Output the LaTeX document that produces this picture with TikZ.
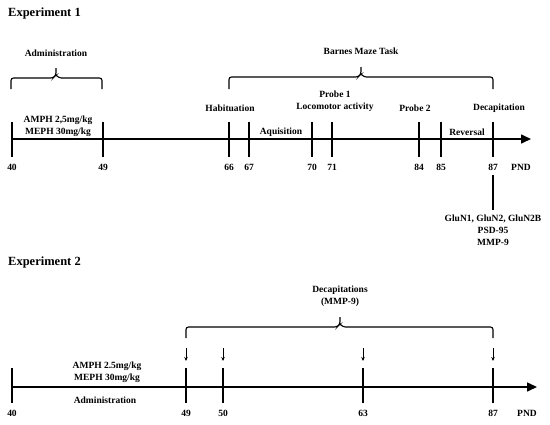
\documentclass[tikz,border=0pt]{standalone}
\usepackage{fontspec}
\setmainfont{Liberation Serif}
\usetikzlibrary{arrows.meta}

\tikzset{
  lbl/.style={font=\fontsize{9.5}{12}\selectfont\bfseries, inner sep=0pt, align=center},
  title/.style={font=\fontsize{12.5}{14}\selectfont\bfseries, inner sep=0pt, anchor=west},
  axis/.style={line width=1.6pt, -{Triangle[length=10pt,width=9pt]}},
  tick/.style={line width=1.5pt},
  brace/.style={line width=1.1pt, rounded corners=2.5pt},
  pointer/.style={line width=0.7pt, -{Stealth[length=4pt,width=3.5pt]}}
}

\begin{document}
\begin{tikzpicture}[x=1pt,y=-1pt]
\useasboundingbox [fill=white] (0,0) rectangle (550,424);

%% Experiment 1
\node (expone) at (8,13) [title]{Experiment 1};

\draw [axis] (12,139)--(531,139);
\foreach \x/\d in {12/40,103/49,229/66,249/67,312/70,332/71,419/84,441/85,493/87}
{
  \draw [tick] (\x,122)--(\x,157);
  \node (a\d) at (\x,167) [lbl]{\d};
}
\node (pndone) at (521,167) [lbl]{PND};

% decapitation samples
\draw [tick] (493,175)--(493,210);
\node (glun) at (493,230) [lbl]{GluN1, GluN2, GluN2B\\PSD-95\\MMP-9};

% labels on the timeline
\node (doseone) at (58,126) [lbl]{AMPH 2,5mg/kg\\MEPH 30mg/kg};
\node (habit) at (230,108) [lbl]{Habituation};
\node (aquis) at (281,132) [lbl]{Aquisition};
\node (probeone) at (335,101) [lbl]{Probe 1\\Locomotor activity};
\node (probetwo) at (415,108) [lbl]{Probe 2};
\node (decap) at (499,108) [lbl]{Decapitation};
\node (revers) at (467,132) [lbl]{Reversal};

% braces
\draw [brace] (11,89)--(11,78)--(53,78)--(56,75)--(56,68);
\draw [brace] (56,75)--(59,78)--(102,78)--(102,89);
\node (admone) at (56,53) [lbl]{Administration};

\draw [brace] (229,89)--(229,77)--(358,77)--(361,74)--(361,67);
\draw [brace] (361,74)--(364,77)--(493,77)--(493,89);
\node (barnes) at (361,51) [lbl]{Barnes Maze Task};

%% Experiment 2
\node (exptwo) at (8,262) [title]{Experiment 2};

\draw [axis] (12,387)--(537,387);
\foreach \x/\d in {12/40,186/49,223/50,363/63,493/87}
{
  \draw [tick] (\x,368)--(\x,403);
  \node (b\d) at (\x,413) [lbl]{\d};
}
\node (pndtwo) at (527,413) [lbl]{PND};

\foreach \x in {186,223,363,493}
  \draw [pointer] (\x,348)--(\x,361);

\draw [brace] (186,338)--(186,327)--(337,327)--(340,324)--(340,317);
\draw [brace] (340,324)--(343,327)--(493,327)--(493,338);
\node (decaps) at (340,296) [lbl]{Decapitations\\(MMP-9)};

\node (dosetwo) at (107,372) [lbl]{AMPH 2.5mg/kg\\MEPH 30mg/kg};
\node (admtwo) at (105,400) [lbl]{Administration};

\end{tikzpicture}
\end{document}
